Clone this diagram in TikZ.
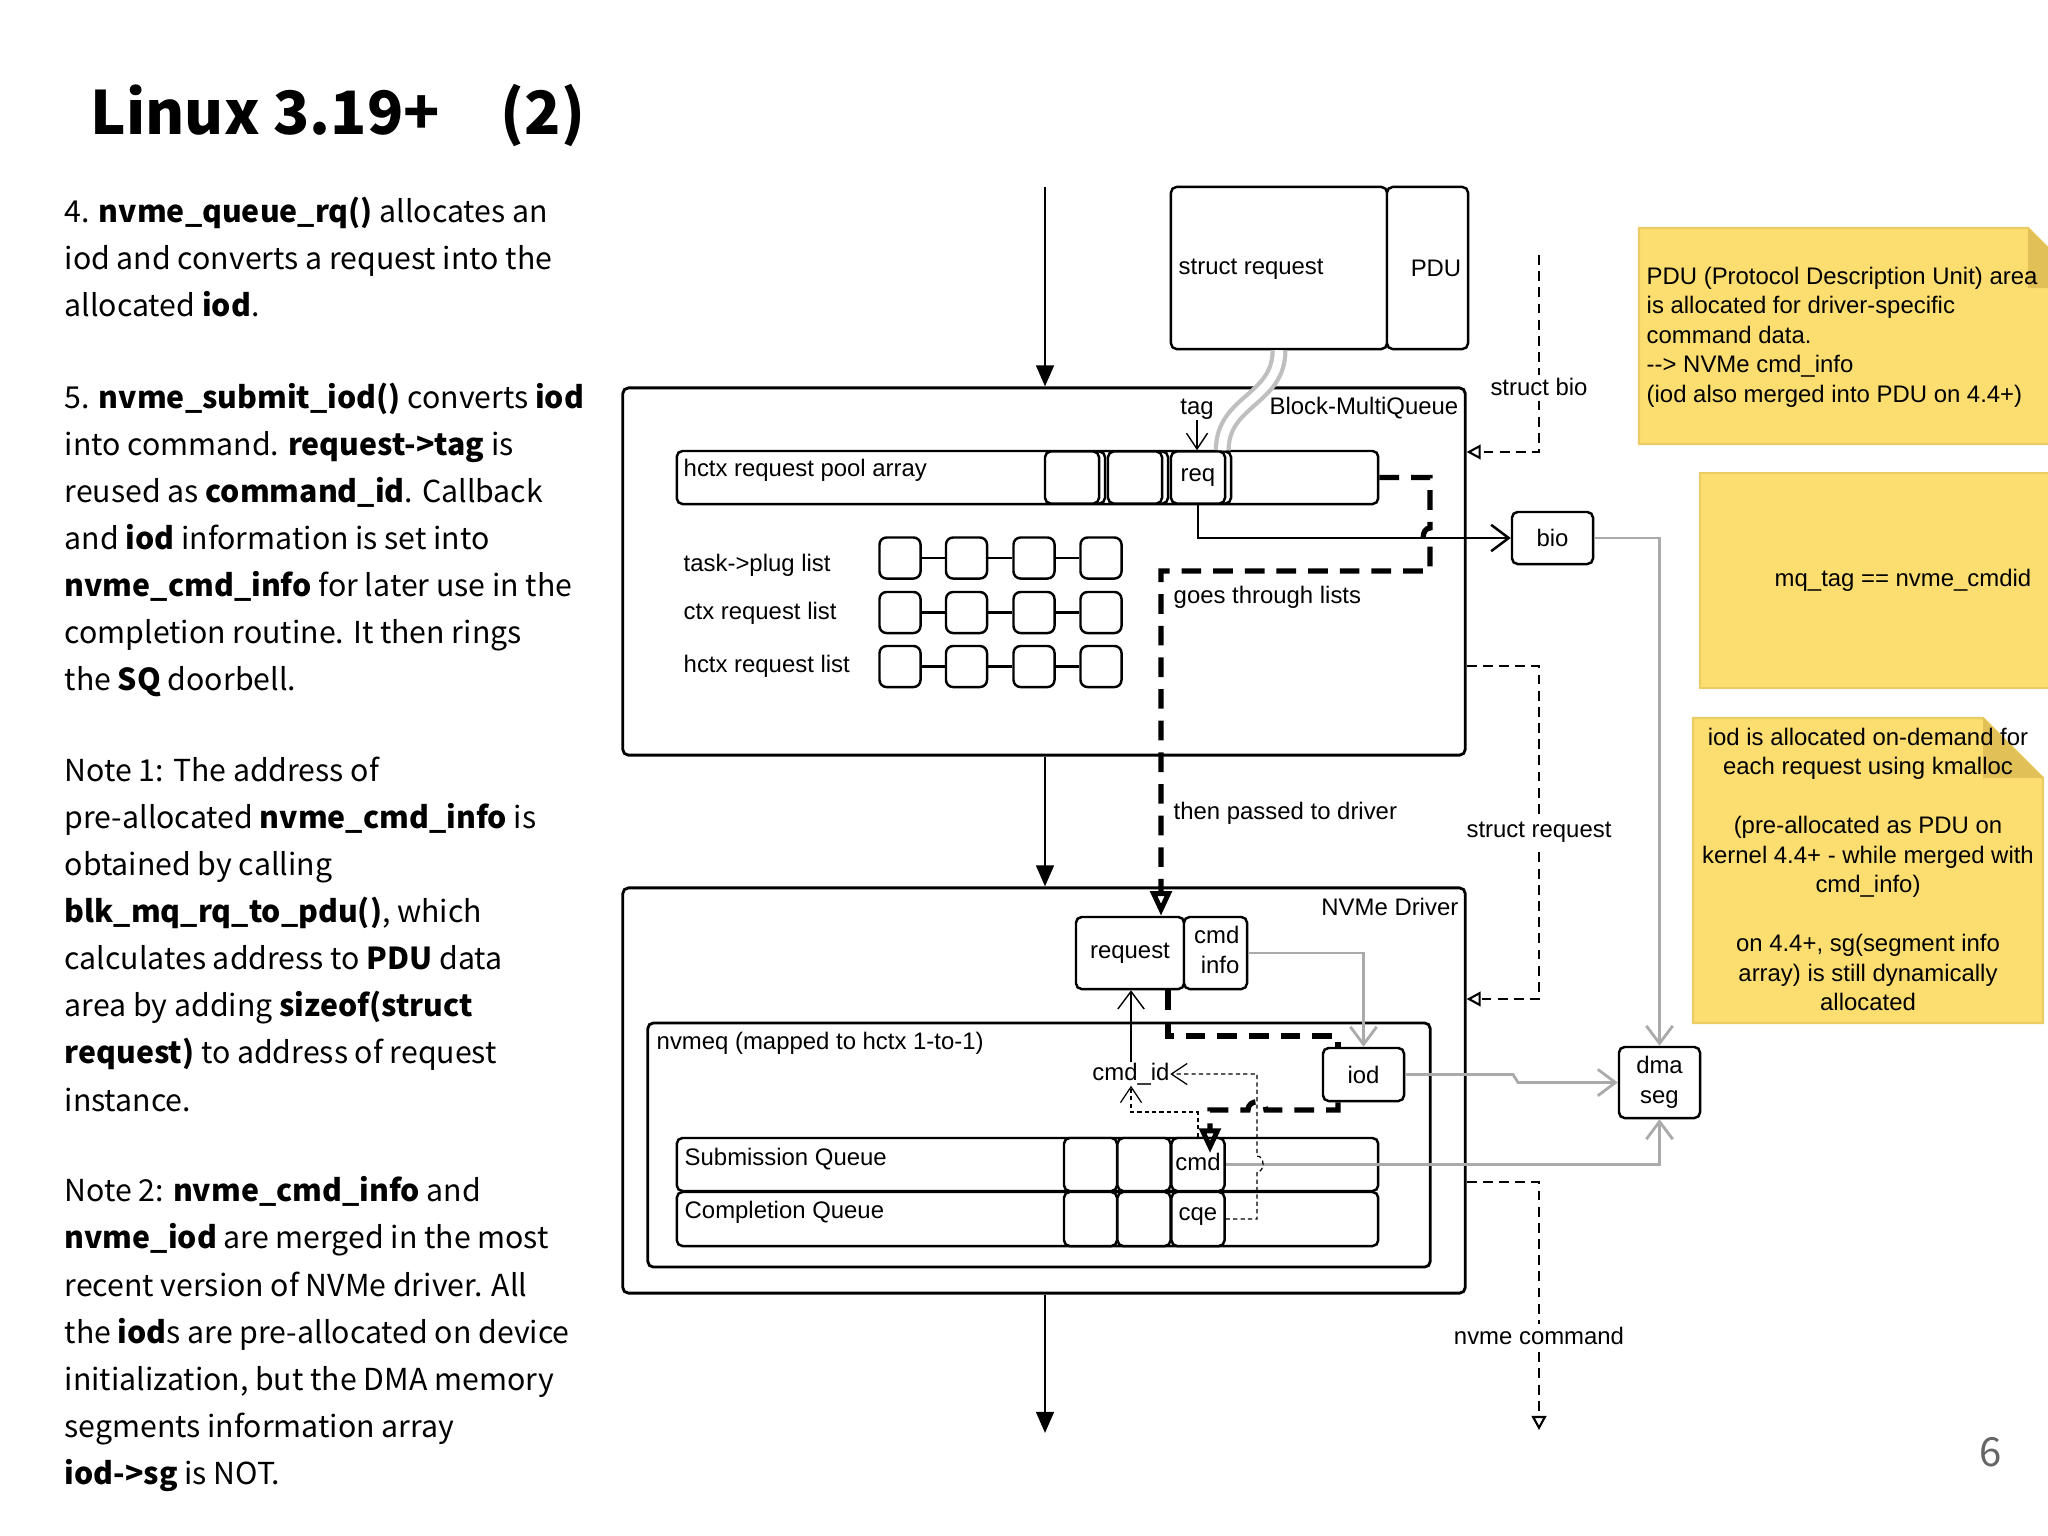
\documentclass[tikz,border=0pt]{standalone}
\usepackage{fontspec}
\setmainfont{Noto Sans CJK KR}
\newfontfamily\dgmfont{Liberation Sans}
\usetikzlibrary{arrows.meta,positioning}
\definecolor{notefill}{RGB}{252,221,112}
\definecolor{notefold}{RGB}{226,192,88}
\definecolor{noteedge}{RGB}{236,204,100}
\definecolor{wirecol}{RGB}{170,170,170}
\tikzset{
  dtext/.style={font=\dgmfont\fontsize{6.8}{8.4}\selectfont, inner sep=0pt},
  box/.style={draw, line width=0.7pt, rounded corners=1.6pt, fill=white, inner sep=0pt, dtext},
  big/.style={draw, line width=0.8pt, rounded corners=1.6pt, inner sep=0pt},
  flow/.style={line width=0.8pt, -{Triangle[length=6pt,width=5pt]}},
  pass/.style={line width=1.5pt, dash pattern=on 5.6pt off 3.4pt},
  passtip/.style={-{Triangle[open,length=7pt,width=6pt,line width=1.4pt]}},
  ref/.style={line width=0.5pt, dash pattern=on 2.8pt off 1.8pt, -{Triangle[open,length=4pt,width=4.2pt,line width=0.6pt]}},
  fine/.style={line width=0.35pt, dash pattern=on 1.2pt off 0.9pt},
  vee/.style={-{Straight Barb[length=5pt,width=7.5pt]}},
  wire/.style={draw=wirecol, line width=0.8pt},
  note/.style={fill=notefill, draw=noteedge, line width=0.6pt},
  body/.style={font=\fontsize{8.6}{13.4}\selectfont, inner sep=0pt, anchor=north west, align=left},
}
\begin{document}
\begin{tikzpicture}[x=0.01cm, y=-0.01cm]
\clip (0,0) rectangle (2048,1536);
\fill[white] (0,0) rectangle (2048,1536);

% slide text
\node[font=\fontsize{17}{20}\selectfont\bfseries, inner sep=0pt, anchor=base west] (title) at (90,134) {Linux 3.19+};
\node[font=\fontsize{17}{20}\selectfont\bfseries, inner sep=0pt, anchor=base west] (titlenum) at (500,134) {(2)};
\node[body] (para4) at (64,196) {4. \textbf{nvme\_queue\_rq()} allocates an\\iod and converts a request into the\\allocated \textbf{iod}.};
\node[body] (para5) at (64,382) {5. \textbf{nvme\_submit\_iod()} converts \textbf{iod}\\into command. \textbf{request->tag} is\\reused as \textbf{command\_id}. Callback\\and \textbf{iod} information is set into\\\textbf{nvme\_cmd\_info} for later use in the\\completion routine. It then rings\\the \textbf{SQ} doorbell.};
\node[body] (note1) at (64,756) {Note 1: The address of\\pre-allocated \textbf{nvme\_cmd\_info} is\\obtained by calling\\\textbf{blk\_mq\_rq\_to\_pdu()}, which\\calculates address to \textbf{PDU} data\\area by adding \textbf{sizeof(struct}\\\textbf{request)} to address of request\\instance.};
\node[body] (note2) at (64,1176) {Note 2: \textbf{nvme\_cmd\_info} and\\\textbf{nvme\_iod} are merged in the most\\recent version of NVMe driver. All\\the \textbf{iod}s are pre-allocated on device\\initialization, but the DMA memory\\segments information array\\\textbf{iod->sg} is NOT.};
\node[font=\fontsize{11.4}{13}\selectfont, text=black!60, inner sep=0pt] (pagenum) at (1991,1452) {6};

% sticky notes
\draw[note] (1639,228) -- (2028,228) -- (2088,288) -- (2088,444) -- (1639,444) -- cycle;
\fill[notefold] (2028,228) -- (2028,288) -- (2088,288) -- cycle;
\draw[note] (1700,473) rectangle (2110,688);
\draw[note] (1693,718) -- (1983,718) -- (2043,778) -- (2043,1023) -- (1693,1023) -- cycle;
\fill[notefold] (1983,718) -- (1983,778) -- (2043,778) -- cycle;
\node[dtext, anchor=north west, align=left] (pdunote) at (1646,266) {PDU (Protocol Description Unit) area\\is allocated for driver-specific\\command data.\\-\kern0pt-\kern0pt> NVMe cmd\_info\\(iod also merged into PDU on 4.4+)};
\node[dtext] (tagnote) at (1903,580) {mq\_tag == nvme\_cmdid};
\node[dtext, anchor=north, align=center] (iodnote) at (1868,727) {iod is allocated on-demand for\\each request using kmalloc\\[8.4pt](pre-allocated as PDU on\\kernel 4.4+ - while merged with\\cmd\_info)\\[8.4pt]on 4.4+, sg(segment info\\array) is still dynamically\\allocated};

% request coming in
\node[box, minimum width=2.16cm, minimum height=1.62cm] (srq) at (1279,268) {};
\node[box, minimum width=0.81cm, minimum height=1.62cm] (pdu) at (1427.5,268) {};
\node[dtext, anchor=west] (srqlbl) at (1178,269) {struct request};
\node[dtext] (pdulbl) at (1436,268) {PDU};

% block multiqueue
\node[big, minimum width=8.42cm, minimum height=3.67cm] (bmq) at (1044,571.5) {};
\node[dtext, anchor=east] (bmqlbl) at (1459,408) {Block-MultiQueue};
\node[box, minimum width=7.01cm, minimum height=0.53cm] (pool) at (1027.5,477.5) {};
\node[dtext, anchor=west] (poollbl) at (683,470) {hctx request pool array};
\foreach \x/\n/\t in {1072/c1/{},1135/c2/{},1198/req/req} {
  \node[box, minimum width=0.54cm, minimum height=0.52cm] (\n s) at (\x+6,477.5) {};
  \node[box, minimum width=0.54cm, minimum height=0.52cm] (\n) at (\x,477.5) {\t};
}
\node[dtext] (tag) at (1197,409) {tag};
\draw[line width=0.4pt, -{Straight Barb[length=4.5pt,width=6pt]}] (tag.south) -- (tag.south |- req.north);
\draw[gray!50, line width=1.2pt, double=white, double distance=2.4pt] (srq.south) .. controls +(0,50) and +(0,-50) .. ([xshift=-0.04cm]req.north east);

\foreach \y/\ly/\t [count=\r] in {558/565/task->plug list, 612.5/613/ctx request list, 666.5/666/hctx request list} {
  \node[dtext, anchor=west] (lst\r) at (683,\ly) {\t};
  \foreach \x [count=\k] in {900,966.5,1034,1101}
    \node[box, minimum size=0.41cm, rounded corners=2pt] (l\r\k) at (\x,\y) {};
  \draw[line width=0.7pt] (l\r1) -- (l\r2) (l\r2) -- (l\r3) (l\r3) -- (l\r4);
}

\node[box, minimum width=0.81cm, minimum height=0.52cm] (bio) at (1552.5,538) {bio};
\draw[line width=0.7pt, vee] (req.south) |- (bio.west);

% nvme driver
\node[big, minimum width=8.42cm, minimum height=4.05cm] (nvme) at (1044,1090.5) {};
\node[dtext, anchor=east] (nvmelbl) at (1459,907) {NVMe Driver};
\node[box, minimum width=1.08cm, minimum height=0.72cm] (rqst) at (1130,953) {request};
\node[box, minimum width=0.63cm, minimum height=0.72cm] (cmdinfo) at (1215.5,953) {};
\node[dtext, anchor=east, align=right] (cmdinfolbl) at (1240,950) {cmd\\info};
\node[big, minimum width=7.82cm, minimum height=2.44cm] (nvmeq) at (1039,1145) {};
\node[dtext, anchor=west] (nvmeqlbl) at (656,1043) {nvmeq (mapped to hctx 1-to-1)};
\node[box, minimum width=0.81cm, minimum height=0.53cm] (iod) at (1363.5,1074.5) {iod};
\node[box, minimum width=7.01cm, minimum height=0.53cm] (sq) at (1027.5,1164.5) {};
\node[box, minimum width=7.01cm, minimum height=0.54cm] (cq) at (1027.5,1219) {};
\node[dtext, anchor=west] (sqlbl) at (684,1159) {Submission Queue};
\node[dtext, anchor=west] (cqlbl) at (684,1212) {Completion Queue};
\foreach \x/\a/\b in {1090.5/s1/q1,1144/s2/q2,1198/cmd/cqe} {
  \node[box, minimum width=0.53cm, minimum height=0.53cm] (\a) at (\x,1164.5) {};
  \node[box, minimum width=0.53cm, minimum height=0.54cm] (\b) at (\x,1219) {};
}
\node[dtext] (cmdlbl) at (1198,1162) {cmd};
\node[dtext] (cqelbl) at (1198,1217) {cqe};
\node[dtext] (cmdid) at (1131,1074) {cmd\_id};
\node[box, minimum width=0.81cm, minimum height=0.71cm, align=center] (dma) at (1659.5,1082.5) {dma\\seg};

% main flow
\coordinate (in) at (1045,187);
\coordinate (out) at (1045,1433);
\draw[flow] (in) -- (in |- bmq.north);
\draw[flow] (in |- bmq.south) -- (in |- nvme.north);
\draw[flow] (in |- nvme.south) -- (out);

% request path (thick dashed)
\draw[pass, passtip] (pool.east) -- (1430,477.5) -- (1430,528) .. controls (1421,528) and (1421,546) .. (1430,546) -- (1430,571) -- (1161,571) -- (1161,0 |- rqst.north);
\draw[pass] (1168,0 |- rqst.south) -- (1168,1036) -- (1338,1036) -- (1338,0 |- iod.north);
\draw[pass, passtip] (1338,0 |- iod.south) -- (1338,1110) -- (1266,1110) .. controls (1266,1099) and (1248,1099) .. (1248,1110) -- (1210,1110) -- (1210,1153);
\node[dtext, anchor=west] (goes) at (1173,597) {goes through lists};
\node[dtext, anchor=west] (passed) at (1173,813) {then passed to driver};

% struct references (thin dashed)
\draw[ref] (1539,255) -- (1539,452) -- (bmq.east |- 0,452);
\draw[ref] (bmq.east |- 0,666) -- (1539,666) -- (1539,999) -- (nvme.east |- 0,999);
\draw[ref] (nvme.east |- 0,1182) -- (1539,1182) -- (1539,1430);
\node[dtext, fill=white, inner sep=1pt] (sbio) at (1539,387) {struct bio};
\node[dtext, fill=white, inner sep=1pt] (sreq) at (1539,832) {struct request};
\node[dtext, fill=white, inner sep=1pt] (ncmd) at (1539,1336) {nvme command};

% grey pointers
\draw[wire, vee] (cmdinfo.east) -| (iod.north);
\draw[wire, vee] (iod.east) -- (1513,1074.5) -- (1518,1082.5) -- (dma.west);
\draw[wire, vee] (bio.east) -| (dma.north);
\draw[wire, vee] (cmd.east) -| (dma.south);

% command id lookups
\draw[line width=0.4pt, vee] (cmdid.north) -- (cmdid.north |- rqst.south);
\draw[fine, -{Straight Barb[length=4.5pt,width=6pt]}] (cqe.east) -- (1257,1219) -- (1257,1172) .. controls (1265,1172) and (1265,1156) .. (1257,1156) |- (cmdid.east);
\draw[fine, -{Straight Barb[length=4.5pt,width=6pt]}] (cmd.north) -- (1198,1112) -| (cmdid.south);
\end{tikzpicture}
\end{document}
